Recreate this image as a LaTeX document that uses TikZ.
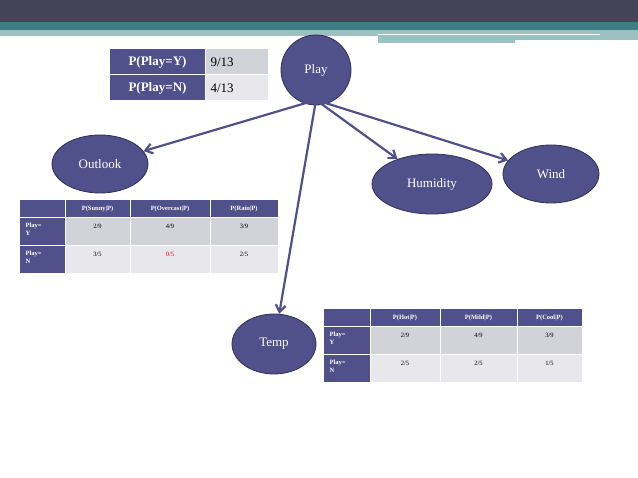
\documentclass[tikz,border=0pt]{standalone}
\usepackage{fontspec}
\setmainfont{Liberation Serif}
\usetikzlibrary{arrows.meta}
\definecolor{pur}{HTML}{50508A}
\definecolor{dark}{HTML}{444458}
\definecolor{teal1}{HTML}{3E7F84}
\definecolor{teal2}{HTML}{9DC0C3}
\definecolor{g1}{HTML}{D2D2D9}
\definecolor{g2}{HTML}{E8E8EC}
\tikzset{
 bn/.style={ellipse,fill=pur,draw=pur!60!black,line width=0.8pt,text=white,font=\fontsize{13}{15}\selectfont},
 conn/.style={draw=pur,line width=2.2pt,-{Straight Barb[length=7pt,width=10pt]}},
 hc/.style={fill=pur,draw=white,line width=0.8pt},
 txw/.style={text=white,font=\bfseries\fontsize{6.5}{8}\selectfont},
 txb/.style={font=\fontsize{6.5}{8}\selectfont}
}
\usetikzlibrary{shapes.geometric}
\begin{document}
\begin{tikzpicture}[x=1pt,y=-1pt]
\useasboundingbox (0,0) rectangle (638,478);
% header
\fill[dark] (0,0) rectangle (638,22);
\fill[teal1] (0,22) rectangle (638,30);
\fill[teal2] (0,30) rectangle (378,36);
\fill[teal2] (378,30) rectangle (638,43);
\fill[white] (378,34) rectangle (600,35.5);
\fill[white] (515,40) rectangle (638,43);
% prior table
\fill[pur] (110,49) rectangle (205,100);
\fill[g1] (205,49) rectangle (268,75);
\fill[g2] (205,75) rectangle (268,100);
\draw[white,line width=1pt] (110,75) -- (268,75) (205,49) -- (205,100);
\node[text=white,font=\bfseries\fontsize{13}{15}\selectfont] (py) at (157.5,62) {P(Play=Y)};
\node[text=white,font=\bfseries\fontsize{13}{15}\selectfont] (pn) at (157.5,88) {P(Play=N)};
\node[font=\fontsize{13}{15}\selectfont,anchor=west] (vy) at (207,62) {9/13};
\node[font=\fontsize{13}{15}\selectfont,anchor=west] (vn) at (207,88) {4/13};
% nodes
\node[bn,minimum width=70,minimum height=70] (play) at (316,70) {Play};
\node[bn,minimum width=96,minimum height=58] (outlook) at (100,164) {Outlook};
\node[bn,minimum width=120,minimum height=60] (hum) at (432,184) {Humidity};
\node[bn,minimum width=96,minimum height=58] (wind) at (551,174) {Wind};
\node[bn,minimum width=84,minimum height=60] (temp) at (274,344) {Temp};
\coordinate (pb) at (316,100);
\draw[conn] (pb) -- (outlook);
\draw[conn] (pb) -- (hum);
\draw[conn] (pb) -- (wind);
\draw[conn] (pb) -- (temp);
% outlook table
\fill[pur] (20,200) rectangle (278,217);
\fill[pur] (20,217) rectangle (65,273);
\fill[g1] (65,217) rectangle (278,245);
\fill[g2] (65,245) rectangle (278,273);
\foreach \x in {65,130,210} \draw[white,line width=0.8pt] (\x,200) -- (\x,273);
\foreach \y in {217,245} \draw[white,line width=0.8pt] (20,\y) -- (278,\y);
\node[txw] (o1) at (97.5,208.5) {P(Sunny|P)};
\node[txw] (o2) at (170,208.5) {P(Overcast|P)};
\node[txw] (o3) at (244,208.5) {P(Rain|P)};
\node[txw,align=left,anchor=north west] (oy) at (22,219) {Play=\\Y};
\node[txw,align=left,anchor=north west] (on) at (22,247) {Play=\\N};
\node[txb] (a1) at (97.5,226) {2/9};
\node[txb] (a2) at (170,226) {4/9};
\node[txb] (a3) at (244,226) {3/9};
\node[txb] (b1) at (97.5,254) {3/5};
\node[txb,text=red] (b2) at (170,254) {0/5};
\node[txb] (b3) at (244,254) {2/5};
% temp table
\fill[pur] (324,309) rectangle (582,326);
\fill[pur] (324,326) rectangle (370,382);
\fill[g1] (370,326) rectangle (582,354);
\fill[g2] (370,354) rectangle (582,382);
\foreach \x in {370,440,517} \draw[white,line width=0.8pt] (\x,309) -- (\x,382);
\foreach \y in {326,354} \draw[white,line width=0.8pt] (324,\y) -- (582,\y);
\node[txw] (t1) at (405,317.5) {P(Hot|P)};
\node[txw] (t2) at (478.5,317.5) {P(Mild|P)};
\node[txw] (t3) at (549.5,317.5) {P(Cool|P)};
\node[txw,align=left,anchor=north west] (ty) at (326,328) {Play=\\Y};
\node[txw,align=left,anchor=north west] (tn) at (326,356) {Play=\\N};
\node[txb] (c1) at (405,335) {2/9};
\node[txb] (c2) at (478.5,335) {4/9};
\node[txb] (c3) at (549.5,335) {3/9};
\node[txb] (d1) at (405,363) {2/5};
\node[txb] (d2) at (478.5,363) {2/5};
\node[txb] (d3) at (549.5,363) {1/5};
\end{tikzpicture}
\end{document}
